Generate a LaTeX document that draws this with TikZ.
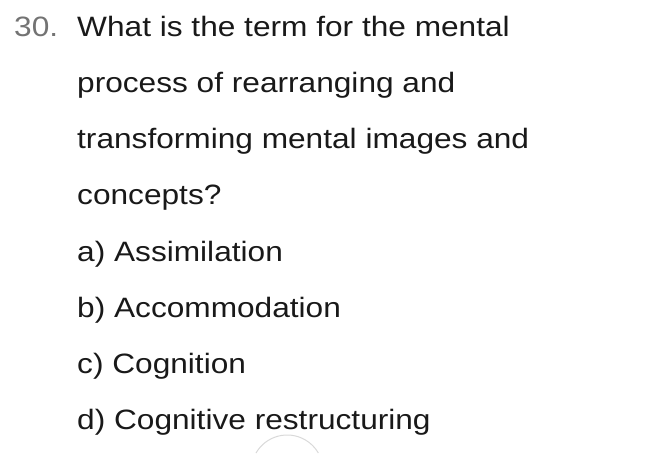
\documentclass[tikz,border=0pt]{standalone}
\usepackage{fontspec}
\setmainfont[FakeStretch=1.13]{Liberation Sans}
\begin{document}
\begin{tikzpicture}[x=1pt,y=1pt,txt/.style={anchor=base west,inner sep=0pt,font=\fontsize{28}{30}\selectfont,text=black!90}]
\useasboundingbox (0,0) rectangle (663,453);
\node[txt,text=black!55] (n) at (14,416) {30.};
\foreach \t [count=\i from 0] in {What is the term for the mental,process of rearranging and,transforming mental images and,concepts?,a) Assimilation,b) Accommodation,c) Cognition,d) Cognitive restructuring}
  \node[txt] (l\i) at (77,416-56*\i) {\t};
\draw[black!15,line width=1pt] (256,0) arc[start angle=150,end angle=30,radius=36];
\end{tikzpicture}
\end{document}
